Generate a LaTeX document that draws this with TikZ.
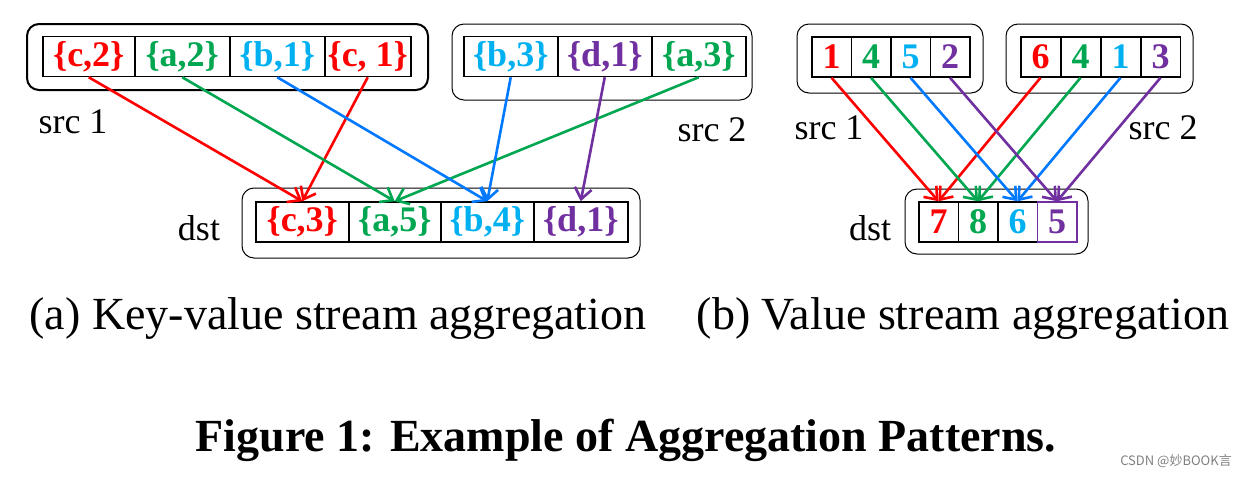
\documentclass[tikz,border=0pt]{standalone}
\usepackage{fontspec}
\setmainfont{Liberation Serif}
\newfontfamily\cjk{Noto Sans CJK SC}
\usetikzlibrary{arrows.meta}
\definecolor{cR}{RGB}{255,0,0}
\definecolor{cG}{RGB}{0,166,80}
\definecolor{cC}{RGB}{0,176,240}
\definecolor{cB}{RGB}{0,120,255}
\definecolor{cP}{RGB}{112,48,160}
\tikzset{
 cell/.style={draw,line width=1.5pt,minimum height=40pt,inner sep=0pt,anchor=west,font=\fontsize{36}{38}\selectfont\bfseries},
 grp/.style={draw,rounded corners=12pt,line width=1pt},
 lbl/.style={font=\fontsize{36}{38}\selectfont,inner sep=0pt},
 ar/.style={line width=2.6pt,-{Straight Barb[length=11pt,width=17pt]}},
}
\begin{document}
\begin{tikzpicture}[x=1pt,y=-1pt]
\useasboundingbox (0,0) rectangle (1258,477);
% left
\draw[grp,line width=2pt] (27,24) rectangle (428,90);
\draw[grp] (452,24) rectangle (752,100);
\draw[grp] (242,188) rectangle (640,258);
\foreach \n/\x/\w/\c/\t in {a1/42/92/cR/{\{c,2\}},a2/134/95/cG/{\{a,2\}},a3/229/95/cC/{\{b,1\}},a4/324/86/cR/{\{c, 1\}},
 b1/463/94/cC/{\{b,3\}},b2/557/94/cP/{\{d,1\}},b3/651/94/cG/{\{a,3\}}}
 \node[cell,minimum width=\w pt,text=\c] (\n) at (\x,56.5) {\t};
\foreach \n/\x/\w/\c/\t in {d1/255/93/cR/{\{c,3\}},d2/348/92/cG/{\{a,5\}},d3/440/93/cC/{\{b,4\}},d4/533/94/cP/{\{d,1\}}}
 \node[cell,minimum width=\w pt,text=\c] (\n) at (\x,222) {\t};
\node[lbl] (ls1) at (73,122) {src 1};
\node[lbl] (ls2) at (712,130) {src 2};
\node[lbl] (ld) at (199,228) {dst};
\draw[ar,cR] (a1.south) -- (d1.north);
\draw[ar,cR] (a4.south) -- (d1.north);
\draw[ar,cG] (a2.south) -- (d2.north);
\draw[ar,cG] (b3.south) -- (d2.north);
\draw[ar,cB] (a3.south) -- (d3.north);
\draw[ar,cB] (b1.south) -- (d3.north);
\draw[ar,cP] (b2.south) -- (d4.north);
% right
\draw[grp] (797,24) rectangle (983,93);
\draw[grp] (1006,24) rectangle (1193,93);
\draw[grp] (905,189) rectangle (1088,254);
\foreach \n/\x/\c/\t in {p1/811/cR/1,p2/850.5/cG/4,p3/890/cC/5,p4/929.5/cP/2,
 q1/1020/cR/6,q2/1060/cG/4,q3/1100/cC/1,q4/1140/cP/3}
 \node[cell,minimum width=39.5pt,text=\c] (\n) at (\x,57) {\t};
\foreach \n/\x/\c/\t in {r1/918/cR/7,r2/957.5/cG/8,r3/997/cC/6}
 \node[cell,minimum width=39.5pt,text=\c] (\n) at (\x,222) {\t};
\node[cell,minimum width=39.5pt,text=cP,draw=cP] (r4) at (1036.5,222) {5};
\node[lbl] (rs1) at (829,128) {src 1};
\node[lbl] (rs2) at (1163,128) {src 2};
\node[lbl] (rd) at (870,228) {dst};
\draw[ar,cR] (p1.south) -- (r1.north);
\draw[ar,cR] (q1.south) -- (r1.north);
\draw[ar,cG] (p2.south) -- (r2.north);
\draw[ar,cG] (q2.south) -- (r2.north);
\draw[ar,cB] (p3.south) -- (r3.north);
\draw[ar,cB] (q3.south) -- (r3.north);
\draw[ar,cP] (p4.south) -- (r4.north);
\draw[ar,cP] (q4.south) -- (r4.north);
% captions
\node[font=\fontsize{46}{50}\selectfont] (capa) at (338,318) {(a) Key-value stream aggregation};
\node[font=\fontsize{46}{50}\selectfont] (capb) at (963,318) {(b) Value stream aggregation};
\node[font=\fontsize{46}{50}\selectfont\bfseries] (fig) at (626,440) {Figure 1: Example of Aggregation Patterns.};
\node[font=\fontsize{13}{15}\selectfont\cjk,text=gray] (wm) at (1176,461) {CSDN @妙BOOK言};
\end{tikzpicture}
\end{document}
